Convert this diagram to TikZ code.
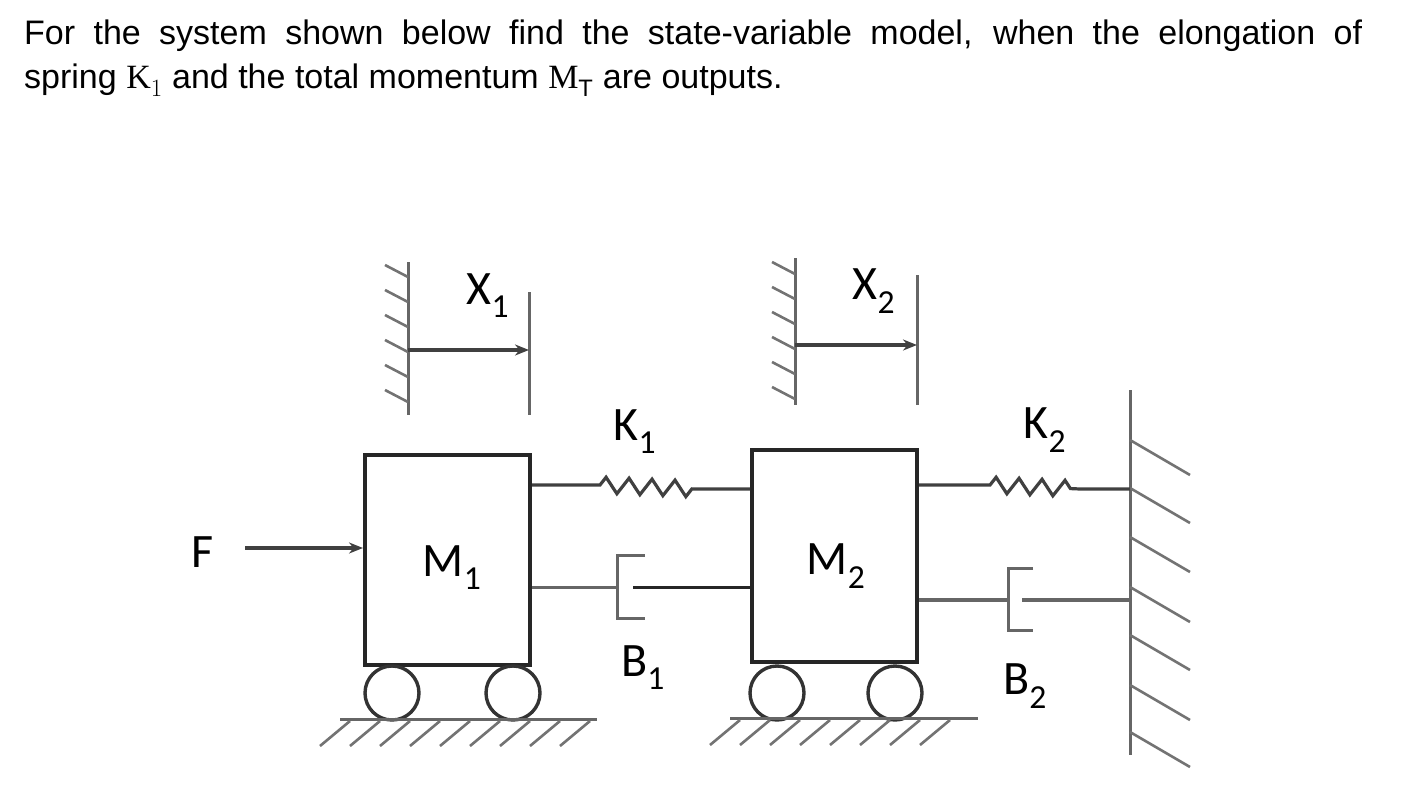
\documentclass[tikz,border=0pt]{standalone}
\usepackage{fontspec}
\setmainfont{Liberation Sans}
\newfontfamily\carl{Carlito}
\newfontfamily\serifm{Liberation Serif}
\usetikzlibrary{decorations.pathmorphing,arrows.meta}
\begin{document}
\begin{tikzpicture}[x=1pt,y=-1pt,
  ln/.style={line width=3.4pt,draw=black!75},
  thin/.style={line width=3pt,draw=black!60},
  hat/.style={line width=2.6pt,draw=black!55},
  lab/.style={font=\carl\fontsize{48}{48}\selectfont,inner sep=0pt},
  arr/.style={-{Stealth[length=14pt,width=11pt]}}]
\useasboundingbox (0,0) rectangle (1404,806);
\node[anchor=north west,text width=1338pt,align=justify,inner sep=0pt,font=\fontsize{34}{44}\selectfont] (title) at (24,20)
 {For the system shown below find the state-variable model, when the elongation of\linebreak spring {\serifm K$_1$} and the total momentum {\serifm M$_{\mathrm{T}}$} are outputs.};
% masses
\node[draw=black!85,line width=4pt,minimum width=165pt,minimum height=210pt,inner sep=0pt] (m1) at (447.5,560) {};
\node[draw=black!85,line width=4pt,minimum width=165pt,minimum height=212pt,inner sep=0pt] (m2) at (834.5,556) {};
\node[lab] at (452,568) {M\textsubscript{1}};
\node[lab] at (836,566) {M\textsubscript{2}};
% force
\node[lab] (F) at (203,552) {F};
\coordinate (fs) at (245,548);
\draw[ln,arr] (fs) -- (m1.west |- fs);
% wheels and ground
\foreach \c in {392,513,777,895} \draw[line width=3.4pt,draw=black!80] (\c,693) circle (27);
\draw[thin] (340,719) -- (597,719);
\draw[thin] (730,718) -- (978,718);
\foreach \x in {350,380,...,590} \draw[hat] (\x,721) -- (\x-30,746);
\foreach \x in {740,770,...,975} \draw[hat] (\x,720) -- (\x-30,745);
% x1
\draw[thin] (408,262) -- (408,415);
\foreach \y in {265,290,...,400} \draw[hat] (408,\y+12) -- (385,\y);
\draw[thin] (529,292) -- (529,415);
\draw[ln,arr] (408,350) -- (529,350);
\node[lab] at (488,296) {X\textsubscript{1}};
% x2
\draw[thin] (795,258) -- (795,405);
\foreach \y in {262,287,...,395} \draw[hat] (795,\y+12) -- (772,\y);
\draw[thin] (917,275) -- (917,405);
\draw[ln,arr] (795,345) -- (917,345);
\node[lab] at (874,291) {X\textsubscript{2}};
% wall
\draw[thin] (1130,390) -- (1130,755);
\foreach \y in {440,488,537,587,635,685,732} \draw[hat] (1130,\y) -- (1190,\y+35);
% K1
\draw[line width=3.2pt,draw=black!75] (m1.east |- 0,485) -- (600,485)
  decorate[decoration={zigzag,amplitude=8pt,segment length=23pt}]{-- (695,489)} -- (m2.west |- 0,489);
\node[lab] at (635,432) {K\textsubscript{1}};
% B1
\draw[thin] (m1.east |- 0,587) -- (617,587);
\draw[thin] (645,555) -- (617,555) -- (617,618) -- (645,618);
\draw[line width=3pt,draw=black!85] (633,587) -- (m2.west |- 0,587);
\node[lab] at (643,668) {B\textsubscript{1}};
% K2
\draw[line width=3.2pt,draw=black!75] (m2.east |- 0,485) -- (990,485)
  decorate[decoration={zigzag,amplitude=8pt,segment length=23pt}]{-- (1080,489)} -- (1130,489);
\node[lab] at (1045,430) {K\textsubscript{2}};
% B2
\draw[line width=4pt,draw=black!60] (m2.east |- 0,600) -- (1008,600);
\draw[thin] (1033,568) -- (1008,568) -- (1008,630) -- (1033,630);
\draw[line width=4pt,draw=black!60] (1022,600) -- (1130,600);
\node[lab] at (1025,686) {B\textsubscript{2}};
\end{tikzpicture}
\end{document}
